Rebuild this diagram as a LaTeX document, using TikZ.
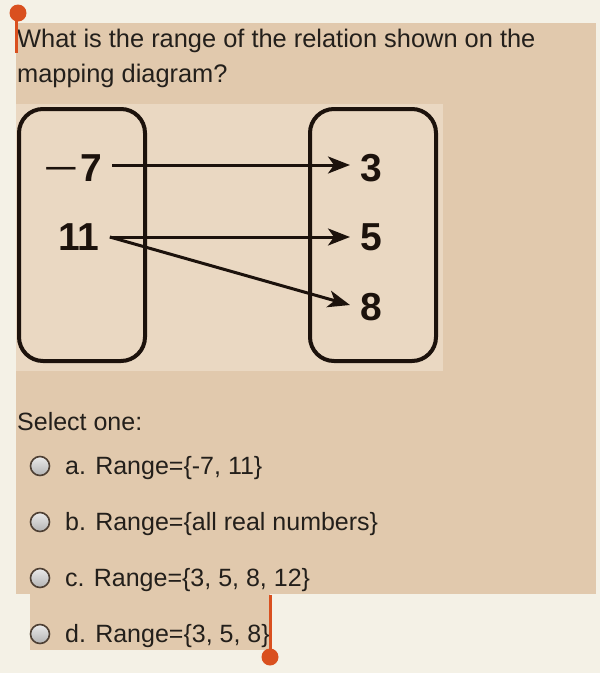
\documentclass[tikz,border=0pt]{standalone}
\usepackage{fontspec}
\setmainfont{Liberation Sans}
\usetikzlibrary{arrows.meta}
\definecolor{pagebg}{HTML}{F4F1E6}
\definecolor{hilite}{HTML}{E1C9AD}
\definecolor{insetbg}{HTML}{EAD8C2}
\definecolor{inktext}{HTML}{231F1B}
\definecolor{boxink}{HTML}{1C120C}
\definecolor{cursor}{HTML}{D9501F}
\definecolor{radioedge}{HTML}{4E4034}
\tikzset{
  qtext/.style={anchor=base west, inner sep=0pt, text=inktext, font=\fontsize{25}{30}\selectfont},
  bigq/.style={qtext, font=\fontsize{25.4}{30}\selectfont},
  setbox/.style={draw=boxink, line width=4pt, rounded corners=24pt, minimum width=126pt, minimum height=252pt, inner sep=0pt},
  num/.style={text=boxink, font=\fontsize{39}{44}\selectfont\bfseries, inner xsep=10pt, inner ysep=0pt},
  maparrow/.style={draw=boxink, line width=3pt, -{Stealth[length=22pt,width=17pt,inset=6pt]}},
  radio/.style={circle, draw=radioedge, line width=1.6pt, minimum size=19pt, inner sep=0pt, top color=white!92!black, bottom color=black!30!white},
  cursorline/.style={draw=cursor, line width=3pt},
  cursordot/.style={circle, fill=cursor, minimum size=17pt, inner sep=0pt}
}
\begin{document}
\begin{tikzpicture}[x=1pt,y=-1pt]
\useasboundingbox (0,0) rectangle (600,673);
\fill[pagebg] (0,0) rectangle (600,673);
% highlights
\fill[hilite] (16,23) rectangle (596,594);
\fill[hilite] (30,594) rectangle (270,650);
\fill[insetbg] (16,104) rectangle (443,371);
% question
\node[bigq] (q1) at (17,47) {What is the range of the relation shown on the};
\node[bigq] (q2) at (17,82) {mapping diagram?};
% mapping diagram
\node[setbox] (dom) at (82,235) {};
\node[setbox] (ran) at (373,235) {};
\node[num, anchor=east] (a1) at (112,168) {\raisebox{5pt}{\scalebox{1.5}[0.6]{−}}\kern2pt 7};
\node[num] (a2) at (79,237) {11};
\node[num, anchor=west] (b1) at (350,168) {3};
\node[num, anchor=west] (b2) at (350,237) {5};
\node[num, anchor=west] (b3) at (350,307) {8};
\draw[maparrow] ([yshift=3pt]a1.east) -- ([yshift=3pt]b1.west);
\draw[maparrow] (a2.east) -- (b2.west);
\draw[maparrow] (a2.east) -- ([yshift=2pt]b3.west);
% options
\node[qtext] (sel) at (17,430) {Select one:};
\node[radio] (ra) at (40,466) {};
\node[radio] (rb) at (40,522) {};
\node[radio] (rc) at (40,578) {};
\node[radio] (rd) at (40,634) {};
\node[qtext] (oa) at (65,474) {a. Range=\{-7, 11\}};
\node[qtext] (ob) at (65,530) {b. Range=\{all real numbers\}};
\node[qtext] (oc) at (65,586) {c. Range=\{3, 5, 8, 12\}};
\node[qtext] (od) at (65,642) {d. Range=\{3, 5, 8\}};
% selection cursors
\node[cursordot] (ctop) at (18,13) {};
\coordinate (ctopend) at (16,53);
\draw[cursorline] (16,14) -- (ctopend);
\node[cursordot] (cbot) at (270,657) {};
\coordinate (cbotstart) at (270,595);
\draw[cursorline] (cbotstart) -- (cbot.center);
\end{tikzpicture}
\end{document}
